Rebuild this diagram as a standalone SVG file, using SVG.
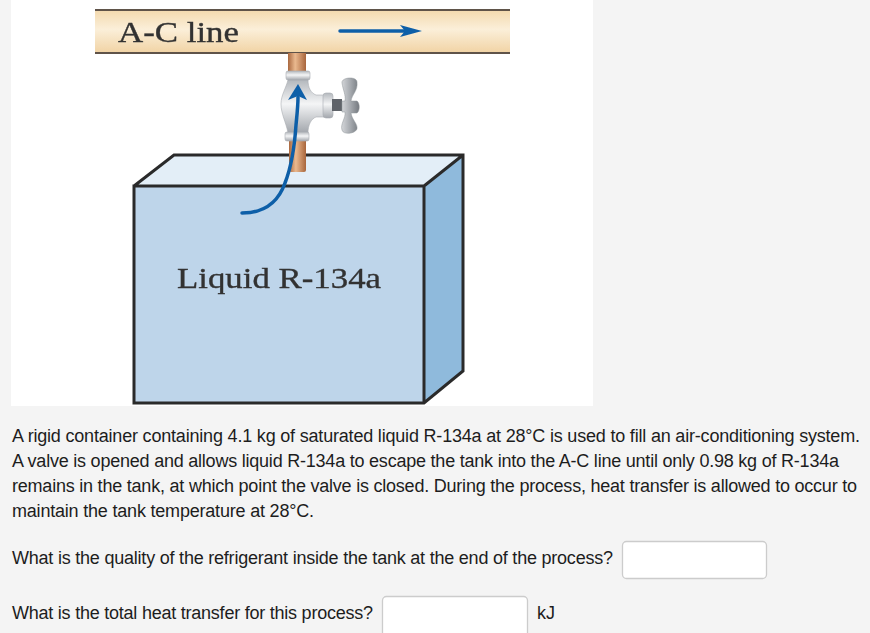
<svg xmlns="http://www.w3.org/2000/svg" width="870" height="633" viewBox="0 0 870 633">
<style>
.p{font-family:"Liberation Sans",Arial,sans-serif;font-size:18px;fill:#1d1d1d}
.s{font-family:"Liberation Serif","Times New Roman",serif;fill:#333;stroke:#333;stroke-width:.35}
.edge{stroke:#2b2b2b;stroke-width:3;stroke-linejoin:miter}
.flow{fill:none;stroke:#0f5fa8;stroke-width:3.5;stroke-linecap:round}
.input{fill:#fff;stroke:#ccc;stroke-width:1.3}
.metal{fill:url(#metal);stroke:#a9adb2;stroke-width:.6}
.grip{fill:url(#grip);stroke:#8f9499;stroke-width:.5}
</style>
<defs>
<filter id="soft" x="-5%" y="-5%" width="110%" height="110%"><feGaussianBlur stdDeviation="0.55"/></filter>
<linearGradient id="pipe" x1="0" y1="0" x2="0" y2="1"><stop offset="0" stop-color="#f3d9ae"/><stop offset=".45" stop-color="#fbefd9"/><stop offset="1" stop-color="#f1d3a4"/></linearGradient>
<linearGradient id="copper" x1="0" y1="0" x2="1" y2="0"><stop offset="0" stop-color="#a9683f"/><stop offset=".4" stop-color="#eab98f"/><stop offset="1" stop-color="#a8653b"/></linearGradient>
<linearGradient id="metal" x1="0" y1="0" x2="0" y2="1"><stop offset="0" stop-color="#b4b8bd"/><stop offset=".45" stop-color="#f4f5f6"/><stop offset="1" stop-color="#a2a6ac"/></linearGradient>
<linearGradient id="grip" x1="0" y1="0" x2="1" y2="0"><stop offset="0" stop-color="#d4d6d9"/><stop offset=".5" stop-color="#a5a9ae"/><stop offset="1" stop-color="#74797f"/></linearGradient>
</defs>
<rect width="870" height="633" fill="#f4f4f4"/>
<rect x="11" y="0" width="582" height="406" fill="#fff"/>

<g id="tank" filter="url(#soft)">
<path d="M134 186L174 155H463L424 186Z" fill="#e3eef7"/>
<path d="M424 186L463 155V371L424 403Z" fill="#8fbadc"/>
<rect x="134" y="186" width="290" height="217" fill="#bed5ea"/>
<path class="edge" fill="none" d="M134 186L174 155H463V371L424 403H134V186H424V403M424 186L463 155"/>
<text class="s" x="177" y="288" font-size="30" textLength="204" lengthAdjust="spacingAndGlyphs">Liquid R-134a</text>
</g>

<g id="ac-line" filter="url(#soft)">
<rect x="95" y="10" width="415" height="43" fill="url(#pipe)"/>
<path d="M95 10H510M95 53H510" stroke="#5f5348" stroke-width="2" fill="none"/>
<text class="s" x="118" y="42" font-size="30" textLength="121" lengthAdjust="spacingAndGlyphs">A-C line</text>
</g>

<g id="valve" filter="url(#soft)">
<rect x="288" y="53" width="18" height="20" fill="url(#copper)"/>
<rect x="289" y="139" width="17" height="33" rx="2" fill="url(#copper)"/>
<path class="metal" d="M288 80C286 88 281 95 281 104C281 114 286 122 288 133H308C308 125 311 119 316 117H324V95H316C311 93 308 88 308 80Z"/>
<rect class="metal" x="286" y="71" width="24" height="9" rx="2"/>
<rect class="metal" x="285" y="132" width="24" height="9" rx="2"/>
<rect class="metal" x="323" y="93" width="10" height="25" rx="3"/>
<rect x="332" y="99" width="10" height="12" fill="#5f6369"/>
<path class="grip" d="M342 83C341 77 357 76 357 82C358 91 352 94 351 101H357C360 103 360 111 357 113H351C352 120 358 124 357 129C355 134 343 135 342 130C340 124 346 118 345 112H342V101H345C346 95 343 90 342 83Z"/>
</g>

<g id="connectors" filter="url(#soft)">
<path class="flow" stroke-width="4" d="M242 213C266 213 279 200 285 183C292 165 295 140 296 125C297 115 298 106 298 97"/>
<path d="M288 100L298 84L307 100L298 96Z" fill="#0f5fa8"/>
<path class="flow" d="M340 31H405"/>
<path d="M400 25L422 31L400 37L405 31Z" fill="#0f5fa8"/>
</g>

<g id="question">
<text class="p" x="12" y="442" textLength="848" lengthAdjust="spacing">A rigid container containing 4.1 kg of saturated liquid R-134a at 28°C is used to fill an air-conditioning system.</text>
<text class="p" x="12" y="467" textLength="827" lengthAdjust="spacing">A valve is opened and allows liquid R-134a to escape the tank into the A-C line until only 0.98 kg of R-134a</text>
<text class="p" x="12" y="492" textLength="845" lengthAdjust="spacing">remains in the tank, at which point the valve is closed. During the process, heat transfer is allowed to occur to</text>
<text class="p" x="12" y="517" textLength="302" lengthAdjust="spacing">maintain the tank temperature at 28°C.</text>
<text class="p" x="12" y="564" textLength="601" lengthAdjust="spacing">What is the quality of the refrigerant inside the tank at the end of the process?</text>
<rect class="input" x="622.500" y="541.500" width="144" height="37" rx="4"/>
<text class="p" x="12" y="619" textLength="361" lengthAdjust="spacing">What is the total heat transfer for this process?</text>
<rect class="input" x="382.500" y="596.500" width="145" height="40" rx="4"/>
<text class="p" x="537" y="619">kJ</text>
</g>
</svg>
